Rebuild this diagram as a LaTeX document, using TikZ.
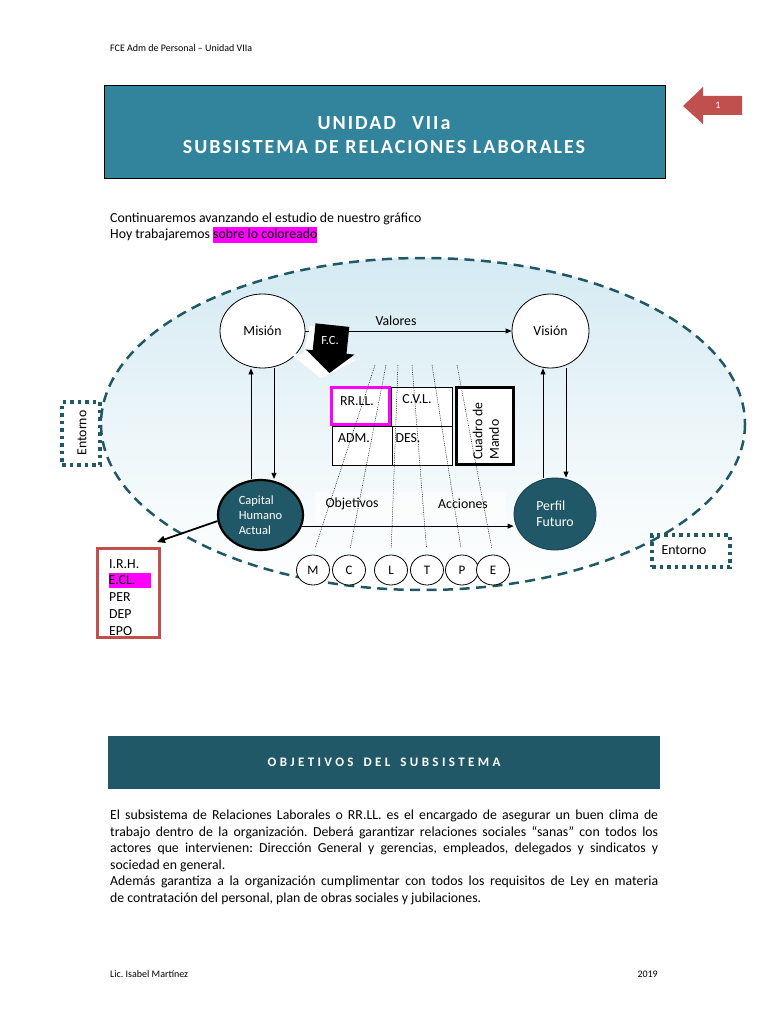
\documentclass[tikz,border=0pt]{standalone}
\usepackage{fontspec}
\setmainfont{Carlito}
\usetikzlibrary{arrows.meta,shapes.geometric}
\definecolor{tealA}{HTML}{31849B}
\definecolor{tealD}{HTML}{215868}
\definecolor{redA}{HTML}{C0504D}
\definecolor{skyA}{RGB}{212,234,242}
\definecolor{hl}{HTML}{FF00FF}
\frenchspacing
\begin{document}
\begin{tikzpicture}[x=1pt,y=-1pt,
  lbl/.style={font=\fontsize{13.8}{16.5}\selectfont, inner sep=0pt},
  oval/.style={ellipse, draw=black, fill=white, line width=0.8pt, inner sep=0pt},
  darkoval/.style={ellipse, fill=tealD, text=white, inner sep=0pt, align=left},
  arr/.style={-{Triangle[length=6pt,width=5pt]}, line width=0.8pt},
  dotln/.style={line width=0.5pt, dash pattern=on 0.8pt off 1pt, shorten >=7pt},
  entbox/.style={draw=tealD, line width=3.5pt, dash pattern=on 3.5pt off 4pt, inner sep=0pt},
  cell/.style={draw=black, fill=white, line width=0.8pt, inner sep=0pt},
  smallc/.style={ellipse, draw=black, fill=white, line width=0.8pt, minimum width=33pt, minimum height=30pt, inner sep=0pt, font=\fontsize{13}{14}\selectfont}
]
\useasboundingbox (0,0) rectangle (768,1024);
\fill[white] (0,0) rectangle (768,1024);

% header and footer
\node[anchor=base west, inner sep=0pt, font=\fontsize{10}{12}\selectfont] (hdr) at (110,52) {FCE Adm de Personal – Unidad VIIa};
\node[anchor=base west, inner sep=0pt, font=\fontsize{10}{12}\selectfont] (ftl) at (110,977) {Lic. Isabel Martínez};
\node[anchor=base east, inner sep=0pt, font=\fontsize{10}{12}\selectfont] (ftr) at (658,977) {2019};

% title
\node[draw=black, fill=tealA, minimum width=561pt, minimum height=93pt, line width=0.8pt, inner sep=0pt] (title) at (384.5,131.5) {};
\node[text=white, inner sep=0pt, font=\bfseries\fontsize{20}{24}\selectfont\addfontfeature{LetterSpace=10}] (t1) at (384,123) {UNIDAD\hspace{16pt}VIIa};
\node[text=white, inner sep=0pt, font=\bfseries\fontsize{20}{24}\selectfont\addfontfeature{LetterSpace=10}] (t2) at (384,147) {SUBSISTEMA DE RELACIONES LABORALES};

% red page arrow
\fill[redA] (683,106) -- (703,87) -- (703,96) -- (742,96) -- (742,115) -- (703,115) -- (703,124) -- cycle;
\node[text=white, inner sep=0pt, font=\fontsize{10}{12}\selectfont] (pg) at (718,105) {1};

% intro
\node[lbl, anchor=base west] (intro1) at (110,222.5) {Continuaremos avanzando el estudio de nuestro gráfico};
\node[lbl, anchor=base west] (intro2) at (110,239) {Hoy trabajaremos {\setlength{\fboxsep}{0pt}\colorbox{hl}{\rule[-3.5pt]{0pt}{15pt}sobre lo coloreado}}};

% big ellipse
\path[top color=skyA, bottom color=white, middle color=skyA!45!white] (423,424) ellipse [x radius=322, y radius=166];
\draw[tealD, line width=2.5pt, dash pattern=on 10pt off 6.5pt] (423,424) ellipse [x radius=322, y radius=166];

% Entorno boxes
\node[entbox, minimum width=38pt, minimum height=63pt] (entL) at (81,433.5) {};
\node[lbl, rotate=90] (entLt) at (82,433) {Entorno};
\node[entbox, minimum width=78pt, minimum height=32pt] (entR) at (691,551) {};
\node[lbl] (entRt) at (684,550) {Entorno};

% main nodes
\node[oval, lbl, minimum width=85pt, minimum height=74pt] (mision) at (262.5,331) {Misión};
\node[oval, lbl, minimum width=77pt, minimum height=74pt] (vision) at (550.5,331) {Visión};
\node[darkoval, draw=black, line width=2.2pt, minimum width=85pt, minimum height=70pt, font=\fontsize{12.5}{15}\selectfont] (cap) at (260.5,515) {Capital\\Humano\\Actual};
\node[darkoval, draw=tealD!70!black, line width=0.8pt, minimum width=82pt, minimum height=72pt, font=\fontsize{13.8}{16.5}\selectfont] (perf) at (555,514) {Perfil\\Futuro};

\coordinate (xa) at (251,0);
\coordinate (xb) at (274,0);
\coordinate (xc) at (543,0);
\coordinate (xd) at (566,0);
\draw[arr] (cap.north -| xa) -- (mision.south -| xa);
\draw[arr] (mision.south -| xb) -- (cap.north -| xb);
\draw[arr] (perf.north -| xc) -- (vision.south -| xc);
\draw[arr] (vision.south -| xd) -- (perf.north -| xd);

% valores
\draw[arr] (mision.east) -- (vision.west);
\node[lbl] (val) at (396,321) {Valores};

% F.C. arrow
\begin{scope}[shift={(330,348)}, rotate=-6]
\fill[white] (-22,-20) -- (14,-20) -- (14,9) -- (28,9) -- (-6,31) -- (-40,9) -- (-26,9) -- cycle;
\fill[black] (-17,-23) -- (17,-23) -- (17,4) -- (25,4) -- (2,25) -- (-24,4) -- (-17,4) -- cycle;
\end{scope}
\node[text=white, inner sep=0pt, font=\fontsize{12.5}{14}\selectfont] (fc) at (330,340) {F.C.};

% grid
\node[cell, minimum width=61pt, minimum height=39pt] (cvl) at (421.5,406.5) {};
\node[cell, minimum width=60pt, minimum height=39pt] (adm) at (362.5,445.5) {};
\node[cell, minimum width=60pt, minimum height=39pt] (des) at (422,445.5) {};
\node[cell, draw=hl, line width=3pt, minimum width=58pt, minimum height=37pt] (rrll) at (360.5,406) {};
\node[cell, line width=2.5pt, minimum width=57pt, minimum height=77pt] (cm) at (485,426) {};
\node[lbl] (rrllt) at (357,401) {RR.LL.};
\node[lbl] (cvlt) at (417,399) {C.V.L.};
\node[lbl] (admt) at (354,438) {ADM.};
\node[lbl] (dest) at (408,438) {DES.};
\node[lbl, rotate=90, align=left] (cmt) at (486,431) {Cuadro de\\Mando};

% objetivos / acciones
\fill[white, opacity=0.6] (315,492) rectangle (505,522);
\node[lbl] (obj) at (352,504) {Objetivos};
\node[lbl] (acc) at (463,504) {Acciones};
\draw[arr] (cap.-15) -- (cap.-15 -| perf.west);

% small circles
\node[smallc] (m) at (313,570) {M};
\node[smallc] (c) at (349,570) {C};
\node[smallc] (l) at (391,570) {L};
\node[smallc] (t) at (427,570) {T};
\node[smallc] (p) at (462,570) {P};
\node[smallc] (e) at (493,570) {E};

\coordinate (d1) at (375,365);
\coordinate (d2) at (386,365);
\coordinate (d3) at (398,365);
\coordinate (d4) at (412,365);
\coordinate (d5) at (432,365);
\coordinate (d6) at (457,365);
\draw[dotln] (d1) -- (m.north);
\draw[dotln] (d2) -- (c.north);
\draw[dotln] (d3) -- (l.north);
\draw[dotln] (d4) -- (t.north);
\draw[dotln] (d5) -- (p.north);
\draw[dotln] (d6) -- (e.north);

% IRH list
\node[draw=redA, fill=white, line width=3pt, minimum width=62pt, minimum height=89pt, inner sep=0pt] (irh) at (128.5,593) {};
\node[lbl, anchor=base west] (l1) at (109,568) {I.R.H.};
\node[lbl, anchor=base west] (l2) at (108.5,584.5) {\setlength{\fboxsep}{0pt}\colorbox{hl}{\rule[-3.5pt]{0pt}{15pt}\makebox[42pt][l]{E.CL.}}};
\node[lbl, anchor=base west] (l3) at (109,601) {PER};
\node[lbl, anchor=base west] (l4) at (109,618) {DEP};
\node[lbl, anchor=base west] (l5) at (109,635) {EPO};
\draw[-{Triangle[length=8pt,width=7pt]}, line width=1.8pt] (cap.188) -- ([xshift=-4pt,yshift=5pt]irh.north east);

% objetivos band
\node[fill=tealD, minimum width=552pt, minimum height=53pt, inner sep=0pt] (band) at (384,762.5) {};
\node[text=white, inner sep=0pt, font=\bfseries\fontsize{13}{15}\selectfont\addfontfeature{LetterSpace=26}] (bandt) at (384,762) {OBJETIVOS\hspace{10pt}DEL\hspace{10pt}SUBSISTEMA};

% paragraph
\node[lbl, anchor=base west, text width=548pt, align=justify] (para) at (110,819.5) {El subsistema de Relaciones Laborales o RR.LL. es el encargado de asegurar un buen clima de\linebreak
trabajo dentro de la organización. Deberá garantizar relaciones sociales “sanas” con todos los\linebreak
actores que intervienen: Dirección General y gerencias, empleados, delegados y sindicatos y\linebreak
sociedad en general.\par
Además garantiza a la organización cumplimentar con todos los requisitos de Ley en materia\linebreak
de contratación del personal, plan de obras sociales y jubilaciones.};
\end{tikzpicture}
\end{document}
